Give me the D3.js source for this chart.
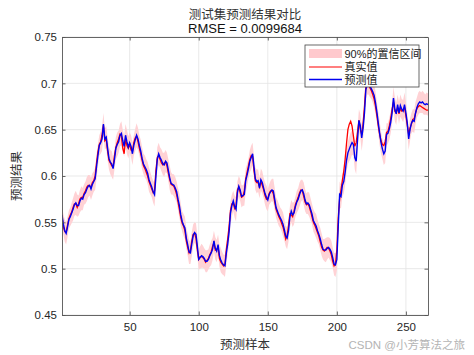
<!DOCTYPE html>
<html><head><meta charset="utf-8">
<script src="https://cdn.jsdelivr.net/npm/d3@7"></script>
<style>body{margin:0;background:#fff}</style></head>
<body>
<svg id="c" width="474" height="355"></svg>
<script>
const trueVals = [
0.556,0.545,0.540,0.539,0.547,0.554,0.558,0.561,0.566,0.570,
0.570,0.566,0.570,0.575,0.577,0.577,0.581,0.584,0.588,0.590,
0.589,0.588,0.593,0.595,0.600,0.614,0.626,0.634,0.637,0.644,
0.655,0.638,0.640,0.627,0.617,0.614,0.611,0.610,0.622,0.631,
0.636,0.640,0.645,0.643,0.630,0.624,0.640,0.633,0.630,0.634,
0.628,0.627,0.636,0.641,0.643,0.637,0.630,0.624,0.617,0.611,
0.608,0.604,0.600,0.594,0.590,0.586,0.582,0.584,0.606,0.620,
0.622,0.618,0.614,0.612,0.614,0.615,0.611,0.603,0.596,0.591,
0.590,0.589,0.585,0.580,0.572,0.564,0.555,0.549,0.546,0.541,
0.530,0.523,0.517,0.520,0.530,0.537,0.538,0.533,0.520,0.510,
0.513,0.513,0.512,0.510,0.507,0.509,0.511,0.515,0.518,0.524,
0.528,0.520,0.521,0.523,0.511,0.507,0.505,0.503,0.505,0.521,
0.532,0.546,0.563,0.570,0.571,0.565,0.568,0.585,0.588,0.582,
0.577,0.578,0.584,0.597,0.604,0.611,0.618,0.622,0.621,0.606,
0.595,0.593,0.593,0.588,0.594,0.590,0.585,0.579,0.575,0.576,
0.581,0.584,0.584,0.581,0.572,0.564,0.560,0.556,0.553,0.549,
0.545,0.539,0.532,0.536,0.546,0.559,0.558,0.556,0.562,0.569,
0.573,0.577,0.582,0.585,0.584,0.578,0.572,0.569,0.570,0.567,
0.562,0.556,0.550,0.547,0.543,0.539,0.535,0.529,0.523,0.520,
0.519,0.521,0.523,0.522,0.519,0.515,0.508,0.503,0.505,0.520,
0.555,0.575,0.585,0.595,0.605,0.618,0.635,0.650,0.656,0.659,
0.654,0.643,0.632,0.636,0.648,0.660,0.650,0.645,0.656,0.675,
0.697,0.700,0.698,0.695,0.692,0.688,0.683,0.675,0.665,0.654,
0.645,0.638,0.634,0.633,0.637,0.647,0.648,0.654,0.662,0.672,
0.680,0.670,0.668,0.674,0.667,0.673,0.670,0.671,0.674,0.665,
0.655,0.645,0.652,0.656,0.661,0.662,0.668,0.673,0.675,0.676,
0.675,0.674,0.673,0.672,0.671,0.671];

const predVals = [
0.558,0.548,0.541,0.538,0.545,0.553,0.556,0.560,0.564,0.569,
0.571,0.568,0.568,0.573,0.576,0.575,0.580,0.582,0.586,0.589,
0.590,0.586,0.591,0.594,0.597,0.610,0.622,0.633,0.636,0.640,
0.656,0.640,0.642,0.630,0.619,0.615,0.613,0.608,0.618,0.630,
0.634,0.637,0.644,0.646,0.638,0.632,0.644,0.637,0.631,0.636,
0.632,0.624,0.633,0.639,0.644,0.640,0.633,0.627,0.619,0.613,
0.610,0.607,0.603,0.596,0.592,0.588,0.583,0.580,0.600,0.618,
0.624,0.620,0.617,0.613,0.612,0.616,0.614,0.606,0.598,0.592,
0.591,0.590,0.587,0.583,0.575,0.568,0.558,0.551,0.547,0.544,
0.533,0.526,0.518,0.517,0.527,0.536,0.539,0.537,0.524,0.510,
0.512,0.514,0.513,0.511,0.508,0.508,0.510,0.514,0.517,0.521,
0.530,0.522,0.519,0.526,0.514,0.509,0.506,0.504,0.503,0.517,
0.527,0.540,0.560,0.568,0.573,0.567,0.564,0.582,0.589,0.585,
0.578,0.579,0.580,0.595,0.601,0.608,0.616,0.620,0.624,0.610,
0.597,0.594,0.595,0.587,0.596,0.593,0.587,0.581,0.577,0.574,
0.580,0.583,0.585,0.584,0.575,0.566,0.562,0.558,0.555,0.552,
0.548,0.542,0.535,0.533,0.541,0.556,0.562,0.558,0.560,0.567,
0.572,0.575,0.580,0.584,0.585,0.581,0.574,0.570,0.571,0.569,
0.564,0.559,0.552,0.549,0.546,0.541,0.537,0.532,0.526,0.521,
0.520,0.520,0.522,0.523,0.521,0.518,0.512,0.505,0.504,0.510,
0.545,0.580,0.578,0.590,0.594,0.604,0.617,0.625,0.629,0.633,
0.636,0.634,0.620,0.616,0.640,0.660,0.654,0.641,0.652,0.668,
0.693,0.699,0.700,0.697,0.694,0.691,0.687,0.679,0.669,0.657,
0.646,0.636,0.629,0.624,0.627,0.645,0.646,0.651,0.658,0.668,
0.684,0.672,0.667,0.677,0.668,0.676,0.672,0.670,0.677,0.668,
0.657,0.640,0.650,0.657,0.660,0.659,0.668,0.674,0.678,0.680,
0.679,0.680,0.678,0.677,0.678,0.677];

const bandHalf = [
0.010,0.011,0.012,0.012,0.011,0.010,0.010,0.011,0.012,0.012,
0.013,0.012,0.011,0.012,0.013,0.012,0.011,0.012,0.013,0.012,
0.011,0.012,0.012,0.011,0.012,0.013,0.012,0.011,0.012,0.013,
0.012,0.011,0.012,0.013,0.012,0.013,0.014,0.012,0.011,0.012,
0.013,0.012,0.012,0.013,0.012,0.011,0.012,0.013,0.012,0.011,
0.012,0.012,0.011,0.012,0.013,0.012,0.011,0.012,0.012,0.011,
0.012,0.011,0.012,0.013,0.012,0.011,0.012,0.013,0.012,0.013,
0.012,0.011,0.012,0.012,0.013,0.012,0.011,0.012,0.013,0.012,
0.011,0.012,0.012,0.011,0.012,0.013,0.012,0.011,0.012,0.012,
0.011,0.012,0.013,0.012,0.013,0.012,0.011,0.012,0.012,0.011,
0.012,0.013,0.012,0.011,0.012,0.012,0.011,0.012,0.013,0.012,
0.011,0.012,0.012,0.011,0.012,0.013,0.012,0.011,0.012,0.012,
0.011,0.012,0.013,0.012,0.011,0.012,0.013,0.012,0.011,0.012,
0.012,0.011,0.012,0.013,0.012,0.011,0.012,0.013,0.012,0.011,
0.012,0.013,0.012,0.011,0.012,0.012,0.011,0.012,0.013,0.012,
0.011,0.012,0.012,0.013,0.012,0.011,0.012,0.012,0.011,0.012,
0.013,0.012,0.011,0.012,0.012,0.011,0.012,0.013,0.012,0.011,
0.012,0.012,0.013,0.012,0.011,0.012,0.012,0.011,0.012,0.013,
0.012,0.011,0.012,0.012,0.013,0.012,0.011,0.012,0.012,0.011,
0.012,0.013,0.012,0.011,0.012,0.012,0.011,0.012,0.013,0.012,
0.013,0.014,0.013,0.012,0.013,0.014,0.013,0.012,0.013,0.014,
0.013,0.012,0.013,0.014,0.013,0.012,0.013,0.014,0.013,0.012,
0.012,0.011,0.012,0.012,0.011,0.012,0.013,0.012,0.011,0.012,
0.013,0.012,0.011,0.012,0.013,0.012,0.011,0.012,0.012,0.011,
0.012,0.013,0.012,0.011,0.012,0.012,0.011,0.012,0.013,0.012,
0.011,0.012,0.012,0.011,0.012,0.013,0.012,0.011,0.012,0.012,
0.011,0.012,0.012,0.011,0.012,0.012];

const xTicks = [50, 100, 150, 200, 250];
const yTicks = [0.45, 0.5, 0.55, 0.6, 0.65, 0.7, 0.75];
const xDomain = [1, 266];
const yDomain = [0.45, 0.75];
const titleText = "测试集预测结果对比";
const rmseText = "RMSE = 0.0099684";
const xLabel = "预测样本";
const yLabel = "预测结果";
const legendLabels = ["90%的置信区间", "真实值", "预测值"];
const watermark = "CSDN @小芳算法之旅";

const svg = d3.select("#c");
const L = 62, R = 428, T = 37, B = 315;
const FONT = "'Liberation Sans', Arial, 'Noto Sans CJK SC', sans-serif";
const x = d3.scaleLinear().domain(xDomain).range([L, R]);
const y = d3.scaleLinear().domain(yDomain).range([B, T]);
const idx = d3.range(predVals.length);

svg.append("rect").attr("width", 474).attr("height", 355).attr("fill", "#fff");
svg.append("rect").attr("x", L).attr("y", T).attr("width", R - L).attr("height", B - T).attr("fill", "#fff");

// grid
const grid = svg.append("g").attr("stroke", "#e3e3e3").attr("stroke-width", 0.8);
grid.selectAll(".gx").data(xTicks).join("line")
  .attr("x1", d => x(d)).attr("x2", d => x(d)).attr("y1", T).attr("y2", B);
grid.selectAll(".gy").data(yTicks).join("line")
  .attr("x1", L).attr("x2", R).attr("y1", d => y(d)).attr("y2", d => y(d));

svg.append("clipPath").attr("id", "clip").append("rect")
  .attr("x", L).attr("y", T).attr("width", R - L).attr("height", B - T);
const plot = svg.append("g").attr("clip-path", "url(#clip)");

const area = d3.area()
  .x(i => x(i + 1))
  .y0(i => y(predVals[i] - bandHalf[i]))
  .y1(i => y(predVals[i] + bandHalf[i]));
plot.append("path").datum(idx).attr("d", area).attr("fill", "#ffd2d5").attr("stroke", "none");

const line = arr => d3.line().x(i => x(i + 1)).y(i => y(arr[i]));
plot.append("path").datum(idx).attr("d", line(trueVals)).attr("fill", "none")
  .attr("stroke", "#ff0000").attr("stroke-width", 1.3);
plot.append("path").datum(idx).attr("d", line(predVals)).attr("fill", "none")
  .attr("stroke", "#0000f0").attr("stroke-width", 1.4);

// axes
const axColor = "#555";
function styleAxis(g, showText) {
  g.selectAll("path").attr("stroke", axColor).attr("stroke-width", 0.9);
  g.selectAll("line").attr("stroke", axColor).attr("stroke-width", 0.9);
  g.selectAll("text").attr("fill", "#262626").attr("font-size", 11.5).attr("font-family", FONT);
  if (!showText) g.selectAll("text").remove();
}
svg.append("g").attr("transform", `translate(0,${B})`)
  .call(d3.axisBottom(x).tickValues(xTicks).tickSizeInner(-3.5).tickSizeOuter(0).tickPadding(8).tickFormat(d3.format("d")))
  .call(g => styleAxis(g, true));
svg.append("g").attr("transform", `translate(0,${T})`)
  .call(d3.axisTop(x).tickValues(xTicks).tickSizeInner(-3.5).tickSizeOuter(0))
  .call(g => styleAxis(g, false));
svg.append("g").attr("transform", `translate(${L},0)`)
  .call(d3.axisLeft(y).tickValues(yTicks).tickSizeInner(-3.5).tickSizeOuter(0).tickPadding(5).tickFormat(d => d3.format(".2f")(d).replace(/0$/, "")))
  .call(g => styleAxis(g, true));
svg.append("g").attr("transform", `translate(${R},0)`)
  .call(d3.axisRight(y).tickValues(yTicks).tickSizeInner(-3.5).tickSizeOuter(0))
  .call(g => styleAxis(g, false));

// titles
svg.append("text").attr("x", (L + R) / 2).attr("y", 18.5).attr("text-anchor", "middle")
  .attr("font-family", FONT).attr("font-size", 12.5).attr("fill", "#333").text(titleText);
svg.append("text").attr("x", (L + R) / 2).attr("y", 33).attr("text-anchor", "middle")
  .attr("font-family", FONT).attr("font-size", 13).attr("fill", "#111").text(rmseText);
svg.append("text").attr("x", (L + R) / 2).attr("y", 349).attr("text-anchor", "middle")
  .attr("font-family", FONT).attr("font-size", 12.5).attr("fill", "#333").text(xLabel);
svg.append("text").attr("transform", `translate(21,${(T + B) / 2}) rotate(-90)`).attr("text-anchor", "middle")
  .attr("font-family", FONT).attr("font-size", 12.5).attr("fill", "#333").text(yLabel);

// legend
const lg = svg.append("g");
lg.append("rect").attr("x", 305).attr("y", 45).attr("width", 114).attr("height", 42)
  .attr("fill", "#fff").attr("stroke", "#444").attr("stroke-width", 0.8);
lg.append("rect").attr("x", 309).attr("y", 49).attr("width", 33).attr("height", 9).attr("fill", "#ffc9cd");
lg.append("line").attr("x1", 309).attr("x2", 342).attr("y1", 67).attr("y2", 67).attr("stroke", "#ff0000").attr("stroke-width", 1.2);
lg.append("line").attr("x1", 309).attr("x2", 342).attr("y1", 79.5).attr("y2", 79.5).attr("stroke", "#0000f0").attr("stroke-width", 1.3);
const ly = [53.5, 67, 79.5];
lg.selectAll(".lt").data(legendLabels).join("text")
  .attr("x", 344.5).attr("y", (d, i) => ly[i] + 4)
  .attr("font-family", FONT).attr("font-size", 11).attr("fill", "#222").text(d => d);

// watermark
svg.append("text").attr("x", 465).attr("y", 349).attr("text-anchor", "end")
  .attr("font-family", FONT).attr("font-size", 11.5).attr("fill", "#b4b4b4").text(watermark);
</script>
</body></html>
